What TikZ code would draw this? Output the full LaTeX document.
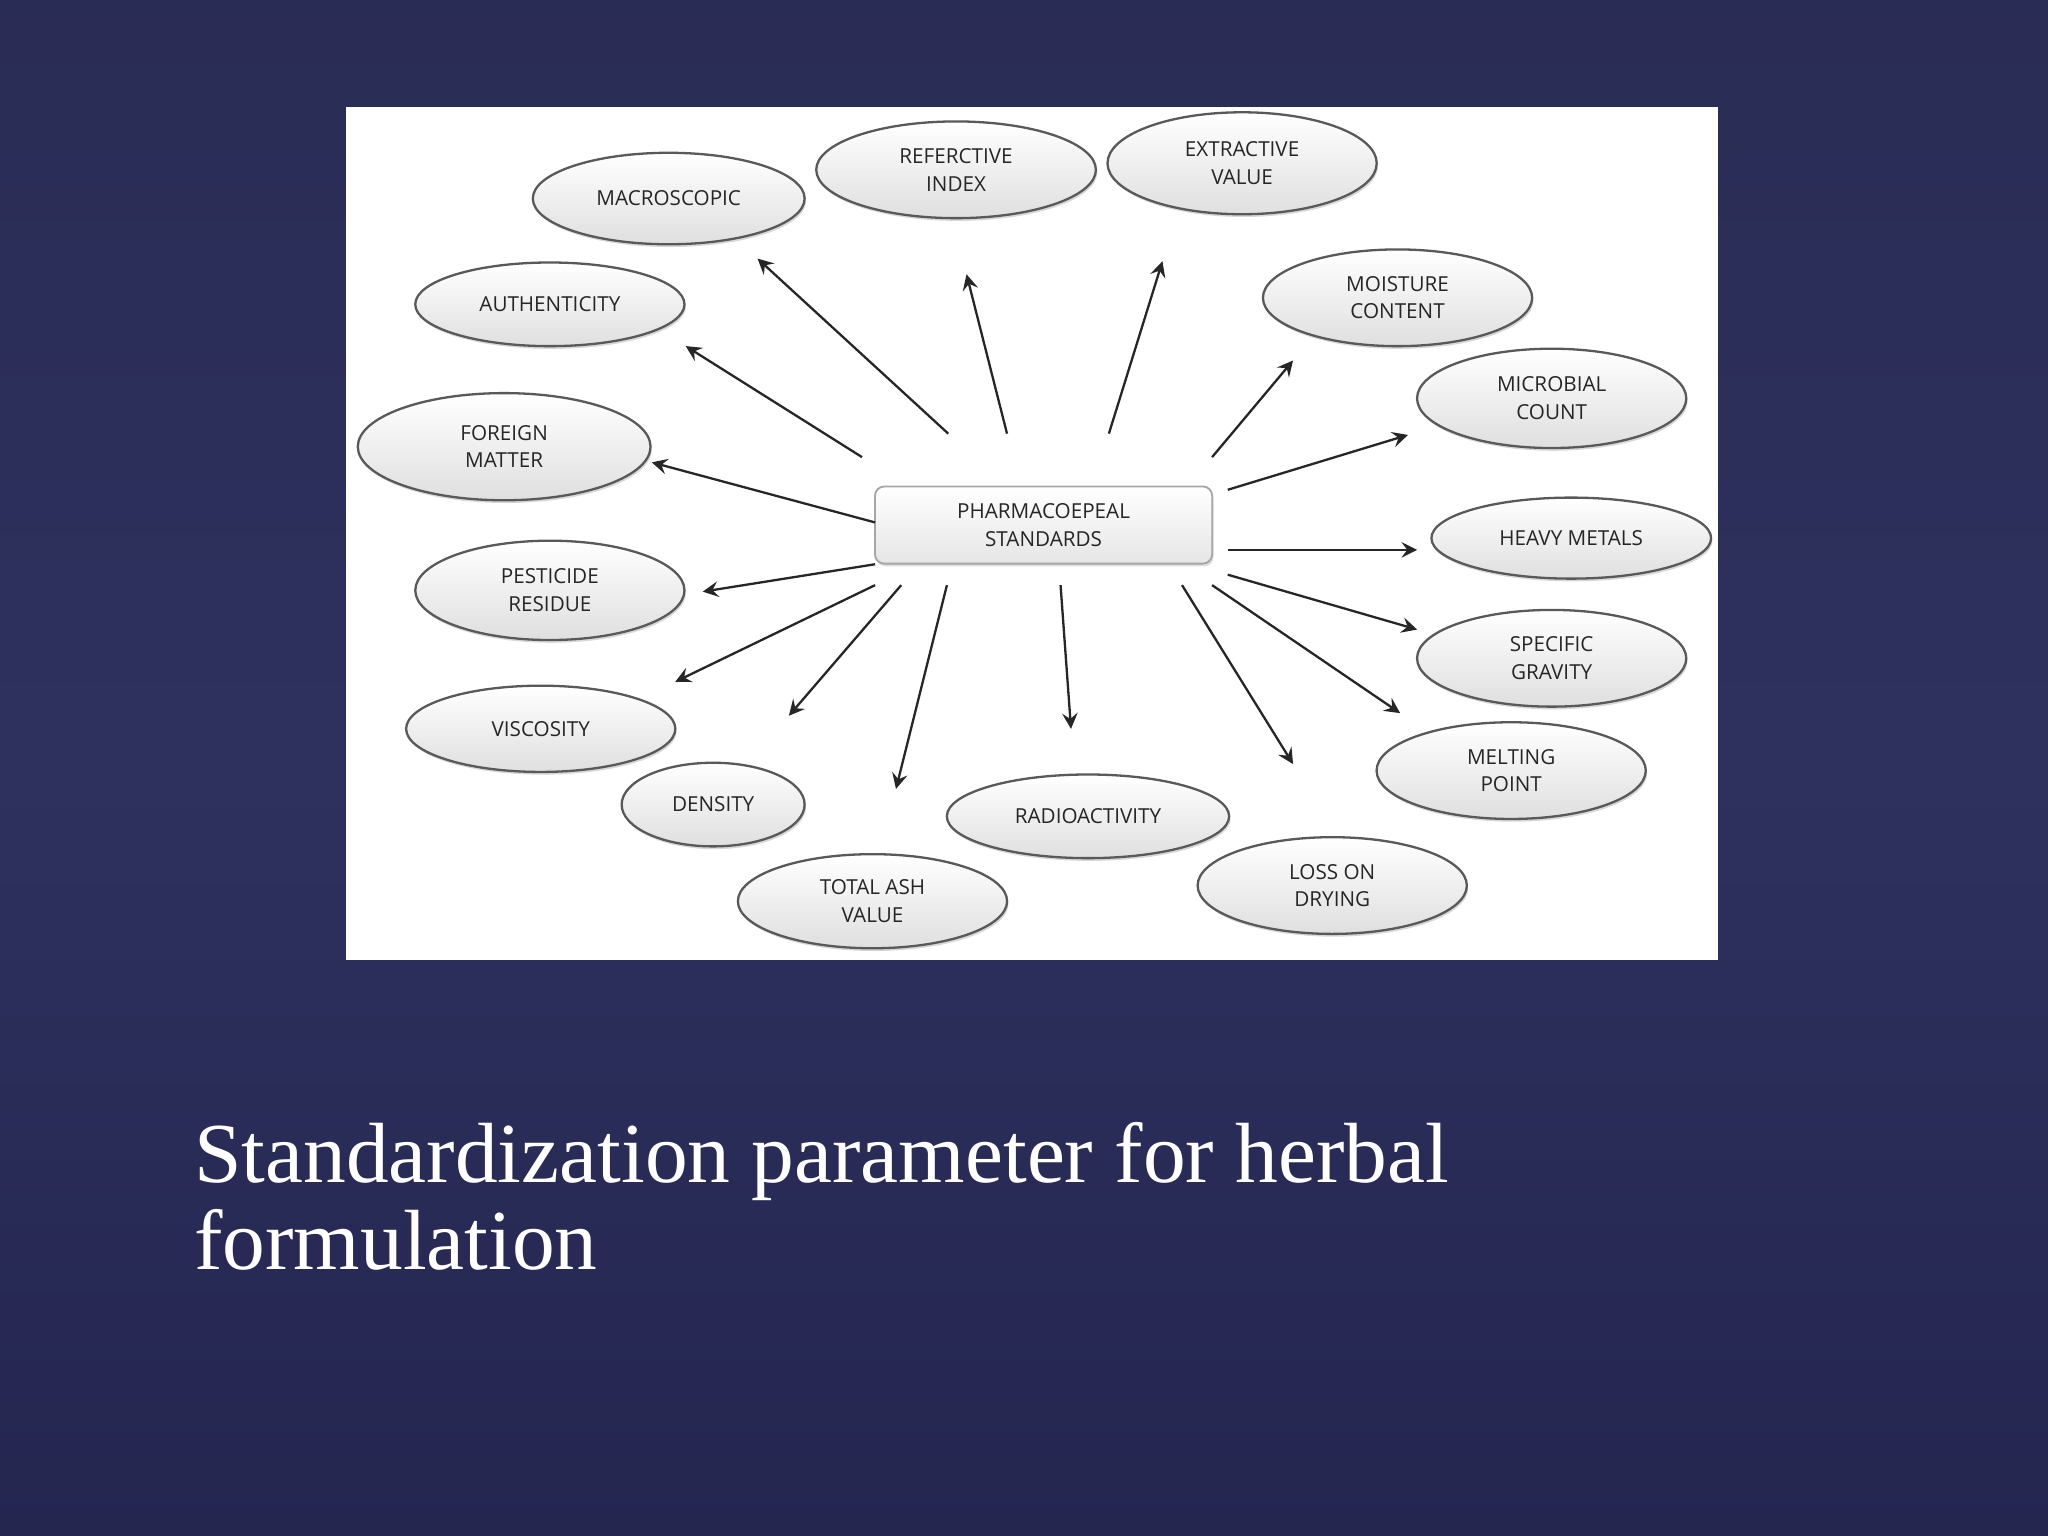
\documentclass[tikz,border=0pt]{standalone}
\usepackage{fontspec}
\setmainfont{Liberation Serif}
\newfontfamily\lab{Open Sans}
\usetikzlibrary{shapes.geometric,shadows}
\definecolor{bgnavy}{RGB}{46,49,94}
\definecolor{bgnavyd}{RGB}{36,38,80}
\begin{document}
\begin{tikzpicture}[x=0.01cm,y=-0.01cm,
  oval/.style={ellipse,draw=gray!70!black,line width=0.5pt,top color=white,bottom color=gray!25,
    drop shadow={shadow xshift=0.3pt,shadow yshift=-0.6pt,fill=gray!60},
    font=\lab\fontsize{4.5}{6}\selectfont,align=center,inner sep=0pt,text=black!85},
  arr/.style={-stealth,line width=0.5pt,black!85}]
\useasboundingbox (0,0) rectangle (1568,1176);
\fill[bottom color=bgnavyd,top color=bgnavy!90!black,middle color=bgnavy] (0,0) rectangle (1568,1176);
\fill[white] (265,82) rectangle (1315,735);
\node[draw=gray!70,rounded corners=2pt,top color=white,bottom color=gray!20,minimum width=2.58cm,minimum height=0.59cm,
  font=\lab\fontsize{4.5}{6}\selectfont,align=center,text=black!85,
  drop shadow={shadow xshift=0.3pt,shadow yshift=-0.6pt,fill=gray!50}] (hub) at (799,402) {PHARMACOEPEAL\\STANDARDS};
\node[oval,minimum width=2.08cm,minimum height=0.70cm] (n1) at (512,152) {MACROSCOPIC};
\node[oval,minimum width=2.14cm,minimum height=0.74cm] (n2) at (732,130) {REFERCTIVE\\INDEX};
\node[oval,minimum width=2.06cm,minimum height=0.78cm] (n3) at (951,125) {EXTRACTIVE\\VALUE};
\node[oval,minimum width=2.06cm,minimum height=0.74cm] (n4) at (1070,228) {MOISTURE\\CONTENT};
\node[oval,minimum width=2.06cm,minimum height=0.76cm] (n5) at (1188,305) {MICROBIAL\\COUNT};
\node[oval,minimum width=2.14cm,minimum height=0.62cm] (n6) at (1203,412) {HEAVY METALS};
\node[oval,minimum width=2.06cm,minimum height=0.74cm] (n7) at (1188,504) {SPECIFIC\\GRAVITY};
\node[oval,minimum width=2.06cm,minimum height=0.74cm] (n8) at (1157,590) {MELTING\\POINT};
\node[oval,minimum width=2.06cm,minimum height=0.74cm] (n9) at (1020,678) {LOSS ON\\DRYING};
\node[oval,minimum width=2.16cm,minimum height=0.64cm] (n10) at (833,625) {RADIOACTIVITY};
\node[oval,minimum width=2.06cm,minimum height=0.72cm] (n11) at (668,690) {TOTAL ASH\\VALUE};
\node[oval,minimum width=1.40cm,minimum height=0.64cm] (n12) at (546,616) {DENSITY};
\node[oval,minimum width=2.06cm,minimum height=0.66cm] (n13) at (414,558) {VISCOSITY};
\node[oval,minimum width=2.06cm,minimum height=0.76cm] (n14) at (421,452) {PESTICIDE\\RESIDUE};
\node[oval,minimum width=2.24cm,minimum height=0.82cm] (n15) at (386,342) {FOREIGN\\MATTER};
\node[oval,minimum width=2.06cm,minimum height=0.64cm] (n16) at (421,233) {AUTHENTICITY};
% arrow start and end points
\foreach \i/\sx/\sy/\ex/\ey in {1/726/332/580/198, 2/771/332/740/210, 3/849/332/890/200,
  4/928/350/990/276, 5/940/375/1078/333, 6/940/421/1085/421, 7/940/440/1085/482,
  8/928/448/1072/546, 9/905/448/990/585, 10/812/448/820/558, 11/725/448/686/604,
  12/690/448/604/548, 13/670/448/517/522, 14/670/432/538/453, 15/670/400/499/354, 16/660/350/525/265}
  {\coordinate (s\i) at (\sx,\sy); \coordinate (e\i) at (\ex,\ey); \draw[arr] (s\i) -- (e\i);}
\node[anchor=base west,text=white,font=\fontsize{18.6}{24}\selectfont,inner sep=0pt] (title) at (148,905)
  {Standardization parameter for herbal};
\node[anchor=base west,text=white,font=\fontsize{18.6}{24}\selectfont,inner sep=0pt] (title2) at (148,972) {formulation};
\end{tikzpicture}
\end{document}
